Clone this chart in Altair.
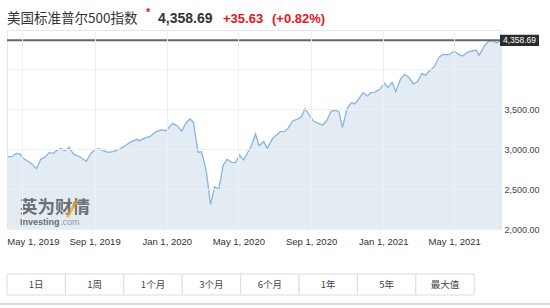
import altair as alt
import pandas as pd

# ---------------- data ----------------
dates = [
    "2019-04-07", "2019-04-14", "2019-04-22", "2019-04-28", "2019-05-05", "2019-05-13",
    "2019-05-20", "2019-05-26", "2019-06-02", "2019-06-09", "2019-06-16", "2019-06-23",
    "2019-06-30", "2019-07-06", "2019-07-13", "2019-07-20", "2019-07-27", "2019-08-04",
    "2019-08-11", "2019-08-18", "2019-08-25", "2019-09-01", "2019-09-08", "2019-09-16",
    "2019-09-24", "2019-10-02", "2019-10-13", "2019-10-22", "2019-10-30", "2019-11-11",
    "2019-11-16", "2019-11-25", "2019-12-03", "2019-12-14", "2019-12-23", "2019-12-31",
    "2020-01-11", "2020-01-19", "2020-01-26", "2020-02-03", "2020-02-09", "2020-02-15",
    "2020-02-23", "2020-02-29", "2020-03-08", "2020-03-15", "2020-03-22", "2020-03-29",
    "2020-04-05", "2020-04-12", "2020-04-20", "2020-04-26", "2020-05-03", "2020-05-10",
    "2020-05-23", "2020-05-30", "2020-06-05", "2020-06-13", "2020-06-19", "2020-06-28",
    "2020-07-11", "2020-07-18", "2020-07-24", "2020-08-01", "2020-08-08", "2020-08-15",
    "2020-08-22", "2020-08-29", "2020-09-05", "2020-09-13", "2020-09-21", "2020-09-28",
    "2020-10-05", "2020-10-12", "2020-10-18", "2020-10-24", "2020-11-01", "2020-11-08",
    "2020-11-14", "2020-11-22", "2020-11-28", "2020-12-05", "2020-12-11", "2020-12-17",
    "2020-12-26",
    "2021-01-03", "2021-01-09", "2021-01-16", "2021-01-22", "2021-01-30", "2021-02-06",
    "2021-02-13", "2021-02-21", "2021-02-28", "2021-03-07", "2021-03-13", "2021-03-20",
    "2021-03-28", "2021-04-05", "2021-04-11", "2021-04-22", "2021-05-01", "2021-05-08",
    "2021-05-15", "2021-05-23", "2021-05-31", "2021-06-07", "2021-06-12", "2021-06-21",
    "2021-06-27", "2021-07-03", "2021-07-07", "2021-07-13", "2021-07-19",
]
values = [
    2904, 2904, 2946, 2937, 2875, 2841, 2800, 2754, 2871, 2896, 2954, 2946,
    2988, 3008, 2979, 3021, 2938, 2913, 2884, 2846, 2938, 2988, 3004, 2979,
    2958, 2967, 2996, 3038, 3079, 3121, 3104, 3138, 3154, 3217, 3238, 3229,
    3321, 3288, 3225, 3329, 3375, 3338, 2958, 2967, 2717, 2308, 2529, 2496,
    2792, 2871, 2833, 2829, 2925, 2863, 3040, 3188, 3042, 3092, 3008, 3133,
    3217, 3217, 3258, 3350, 3371, 3396, 3504, 3425, 3350, 3321, 3300, 3363,
    3475, 3483, 3467, 3271, 3508, 3579, 3563, 3642, 3704, 3663, 3704, 3708,
    3746,
    3821, 3771, 3833, 3717, 3871, 3933, 3896, 3813, 3842, 3946, 3921, 3975,
    4029, 4146, 4179, 4179, 4225, 4183, 4163, 4208, 4225, 4238, 4171, 4288,
    4341, 4354, 4341, 4329, 4358.69,
]
x_tick_months = [(2019, 5), (2019, 9), (2020, 1), (2020, 5), (2020, 9), (2021, 1), (2021, 5)]
y_ticks = [2000, 2500, 3000, 3500, 4000]
last_value = 4358.69
title_name = "美国标准普尔500指数"
price_text = "4,358.69"
change_text = "+35.63"
change_pct_text = "(+0.82%)"
buttons = ["1日", "1周", "1个月", "3个月", "6个月", "1年", "5年", "最大值"]

W, H = 494, 199
CJK = "Noto Sans CJK SC"
LAT = "Liberation Sans"
RED = "#e8141b"

df = pd.DataFrame({"date": dates, "value": values})

x_scale = alt.Scale(
    type="utc",
    domain=[alt.DateTime(year=2019, month=4, date=6, utc=True),
            alt.DateTime(year=2021, month=7, date=19, utc=True)],
)
y_scale = alt.Scale(domain=[2000, 4487.5], nice=False, zero=False)

x_axis = alt.Axis(
    values=[alt.DateTime(year=y, month=m, date=1, utc=True) for y, m in x_tick_months],
    labelExpr="utcFormat(datum.value, '%b %-d, %Y')",
    title=None, domain=False, ticks=False, labelPadding=7,
    labelFontSize=9.5, labelColor="#333333", labelFont=LAT,
    grid=True, gridColor="#edf1f5", gridWidth=1,
    labelFlush=16, labelFlushOffset=15, labelOverlap=False, zindex=1,
)
y_axis = alt.Axis(
    orient="right", values=y_ticks,
    labelExpr="datum.value >= 4000 ? '' : format(datum.value, ',.2f')",
    title=None, domain=False, ticks=False, labelPadding=3,
    labelFontSize=9, labelColor="#444444", labelFont=LAT,
    grid=True, gridColor="#edf1f5", gridWidth=1, zindex=1,
)

x_enc = alt.X("date:T", scale=x_scale, axis=x_axis)
y_enc = alt.Y("value:Q", scale=y_scale, axis=y_axis)

area = alt.Chart(df).mark_area(color="#e4ecf3", clip=True).encode(x=x_enc, y=y_enc)
line = alt.Chart(df).mark_line(color="#88b4e2", strokeWidth=1.3, clip=True).encode(x=x_enc, y=y_enc)

last_df = pd.DataFrame({"value": [last_value]})
last_rule = alt.Chart(last_df).mark_rule(color="#666666", strokeWidth=2).encode(
    y=y_enc, x=alt.value(0), x2=alt.value(W),
)
last_box = alt.Chart(last_df).transform_calculate(
    top="datum.value + 70", bot="datum.value - 70"
).mark_rect(color="#2b2b2b").encode(
    y=alt.Y("top:Q", scale=y_scale, axis=y_axis),
    y2="bot:Q",
    x=alt.value(493), x2=alt.value(532),
)
last_label = alt.Chart(last_df).transform_calculate(
    lab="format(datum.value, ',.2f')"
).mark_text(color="white", fontSize=8.5, font=LAT, align="center", baseline="middle").encode(
    y=y_enc, x=alt.value(512.5), text="lab:N",
)


def txt(s, x, y, size, color, font, weight="normal", align="left", opacity=1):
    return alt.Chart(pd.DataFrame({"t": [s]})).mark_text(
        fontSize=size, color=color, font=font, fontWeight=weight,
        align=align, baseline="middle", opacity=opacity,
    ).encode(x=alt.value(x), y=alt.value(y), text="t:N")


header = [
    txt(title_name, 0, -11, 13.5, "#333333", CJK),
    txt("*", 139, -17, 11, RED, LAT, "bold"),
    txt(price_text, 151, -11, 14, "#333333", LAT, "bold"),
    txt(change_text, 216, -11, 13, RED, LAT, "bold"),
    txt(change_pct_text, 265, -11, 13, RED, LAT, "bold"),
]

watermark = [
    txt("英为财情", 13, 178, 17.5, "#5a5a5a", CJK, "bold", opacity=0.85),
    alt.Chart(pd.DataFrame({"t": [0]})).mark_rule(
        color="#f0a020", strokeWidth=3, opacity=0.75, strokeCap="round"
    ).encode(x=alt.value(61), x2=alt.value(69), y=alt.value(186), y2=alt.value(172)),
    txt("Investing", 13, 192, 9, "#555555", LAT, "bold", opacity=0.85),
    txt(".com", 53, 192, 9, "#888888", LAT, opacity=0.85),
]

bw = 58.4
button_layers = []
for i, b in enumerate(buttons):
    button_layers.append(
        alt.Chart(pd.DataFrame({"t": [b]})).mark_rect(
            fill="white", stroke="#dddddd", strokeWidth=1
        ).encode(x=alt.value(i * bw), x2=alt.value((i + 1) * bw),
                 y=alt.value(244), y2=alt.value(265))
    )
    button_layers.append(txt(b, (i + 0.5) * bw, 254.5, 9.5, "#444444", CJK, align="center"))

bottom_rule = alt.Chart(pd.DataFrame({"t": [0]})).mark_rule(
    color="#dddddd", strokeWidth=2
).encode(x=alt.value(-7), x2=alt.value(543), y=alt.value(274))

chart = alt.layer(
    area, line, last_rule, last_box, last_label,
    *header, *watermark, *button_layers, bottom_rule,
).properties(
    width=W, height=H,
    autosize=alt.AutoSizeParams(type="none"),
    padding={"left": 7, "top": 30, "right": 49, "bottom": 79},
    background="white",
).configure_view(stroke="#e4e7ea", strokeWidth=1)

chart.save("out.html", embed_options={"renderer": "svg", "actions": False})
